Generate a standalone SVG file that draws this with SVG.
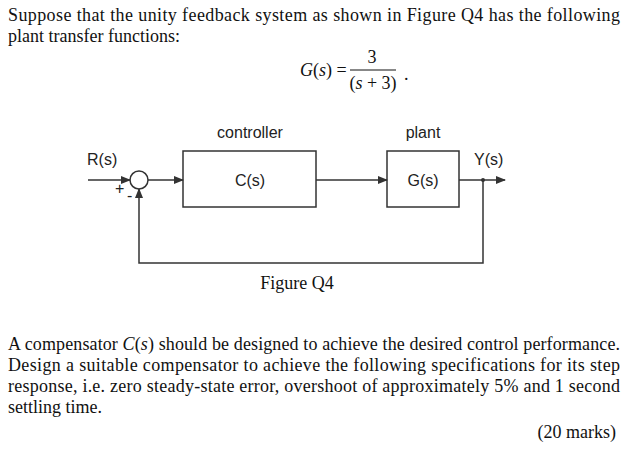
<svg xmlns="http://www.w3.org/2000/svg" width="637" height="455" viewBox="0 0 637 455">
<style>
.t{font-family:"Liberation Serif",serif;font-size:18px;fill:#111}
.s{font-family:"Liberation Sans",sans-serif;font-size:16px;fill:#222}
.b{fill:none;stroke:#333;stroke-width:1.5}
.c{fill:none;stroke:#333;stroke-width:1.5}
</style>
<defs><marker id="a" markerWidth="10" markerHeight="8" refX="9" refY="4" orient="auto" markerUnits="userSpaceOnUse"><path d="M0,0L10,4L0,8z" fill="#333"/></marker></defs>
<rect width="637" height="455" fill="#fff"/>
<text class="t" x="8" y="21" textLength="612" lengthAdjust="spacing">Suppose that the unity feedback system as shown in Figure Q4 has the following</text>
<text class="t" x="8" y="42">plant transfer functions:</text>
<text class="t" x="300" y="76"><tspan font-style="italic">G</tspan>(<tspan font-style="italic">s</tspan>) =</text>
<text class="t" x="372" y="63" text-anchor="middle">3</text>
<line x1="350" y1="70" x2="396" y2="70" stroke="#111"/>
<text class="t" x="373" y="89" text-anchor="middle">(<tspan font-style="italic">s</tspan> + 3)</text>
<text class="t" x="404" y="80">.</text>
<g id="sum"><circle cx="139" cy="180" r="9" class="b"/><text class="s" x="115" y="194" font-size="13">+</text><text class="s" x="127" y="201" font-size="13">-</text></g>
<g id="controller"><rect x="183" y="151" width="133" height="56" class="b"/><text class="s" x="250" y="186" text-anchor="middle">C(s)</text><text class="s" x="250" y="138" text-anchor="middle">controller</text></g>
<g id="plant"><rect x="387" y="151" width="72" height="56" class="b"/><text class="s" x="423" y="186" text-anchor="middle">G(s)</text><text class="s" x="423" y="138" text-anchor="middle">plant</text></g>
<g id="labels"><text class="s" x="87" y="165">R(s)</text><text class="s" x="474" y="165">Y(s)</text><circle cx="483" cy="180" r="2" fill="#333"/></g>
<g id="connectors">
<line x1="88" y1="180" x2="130" y2="180" class="c" marker-end="url(#a)"/>
<line x1="148" y1="180" x2="183" y2="180" class="c" marker-end="url(#a)"/>
<line x1="316" y1="180" x2="387" y2="180" class="c" marker-end="url(#a)"/>
<line x1="459" y1="180" x2="505" y2="180" class="c" marker-end="url(#a)"/>
<polyline points="483,180 483,263 139,263 139,189" class="c" marker-end="url(#a)"/>
</g>
<text class="t" x="297" y="289" text-anchor="middle">Figure Q4</text>
<text class="t" x="8" y="350" textLength="612" lengthAdjust="spacing">A compensator <tspan font-style="italic">C</tspan>(<tspan font-style="italic">s</tspan>) should be designed to achieve the desired control performance.</text>
<text class="t" x="8" y="371" textLength="612" lengthAdjust="spacing">Design a suitable compensator to achieve the following specifications for its step</text>
<text class="t" x="8" y="392" textLength="612" lengthAdjust="spacing">response, i.e. zero steady-state error, overshoot of approximately 5%  and 1 second</text>
<text class="t" x="8" y="413">settling  time.</text>
<text class="t" x="616" y="438" text-anchor="end">(20  marks)</text>
</svg>
